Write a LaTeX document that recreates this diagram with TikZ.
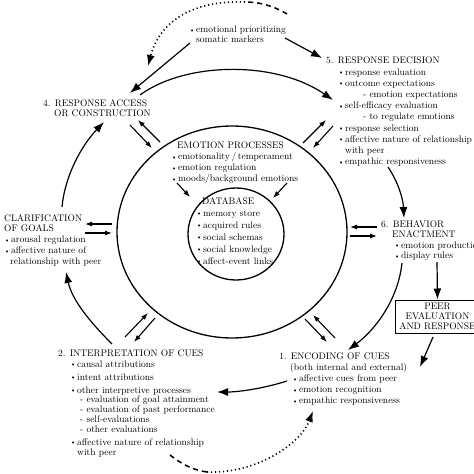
\documentclass[tikz,border=0pt]{standalone}
\usepackage{tikz}
\usetikzlibrary{arrows.meta}

\newcommand{\itm}{\makebox[7pt][l]{\raisebox{0.4pt}{\scriptsize\textbullet}}}

\tikzset{
	lbl/.style={align=left, inner sep=0pt, anchor=north west, font=\fontsize{9.5}{11}\selectfont},
	ring/.style={line width=1.2pt, -{Latex[length=11pt,width=8pt]}},
	twin/.style={line width=1.1pt, -{Latex[length=7pt,width=5pt]}},
	dashy/.style={line width=1.5pt, dash pattern=on 5pt off 4pt},
	dotty/.style={line width=1.6pt, dash pattern=on 1.2pt off 2.8pt},
}

\begin{document}
\begin{tikzpicture}[x=1pt, y=-1pt]
	\useasboundingbox (0,0) rectangle (474,474);
	% the two circles
	\draw[line width=1.3pt] (232,232) ellipse [x radius=115pt, y radius=106pt];
	\draw[line width=1.3pt] (236,234) ellipse [x radius=48pt, y radius=46pt];

	% texts
	\node[lbl, font=\fontsize{9.5}{10}\selectfont] (prio) at (189,26) {\itm emotional prioritizing\\\hspace*{7pt}somatic markers};
	\node[lbl, font=\fontsize{9.5}{11.2}\selectfont] (dec) at (326,57) {5. RESPONSE DECISION\\
		\hspace*{12pt}\itm response evaluation\\
		\hspace*{12pt}\itm outcome expectations\\
		\hspace*{37pt}- emotion expectations\\
		\hspace*{12pt}\itm self-efficacy evaluation\\
		\hspace*{37pt}- to regulate emotions\\
		\hspace*{12pt}\itm response selection\\
		\hspace*{12pt}\itm affective nature of relationship\\
		\hspace*{19pt}with peer\\
		\hspace*{12pt}\itm empathic responsiveness};
	\node[lbl, font=\fontsize{9.5}{10}\selectfont] (acc) at (43,99) {4. RESPONSE ACCESS\\\hspace*{11pt}OR CONSTRUCTION};
	\node[lbl] (emo) at (171,142) {\hspace*{6pt}EMOTION PROCESSES\\
		\itm emotionality\,/\,temperament\\
		\itm emotion regulation\\
		\itm moods/background emotions};
	\node[lbl, font=\fontsize{9.5}{12}\selectfont] (db) at (196,197) {\hspace*{6pt}DATABASE\\
		\itm memory store\\
		\itm acquired rules\\
		\itm social schemas\\
		\itm social knowledge\\
		\itm affect-event links};
	\node[lbl, font=\fontsize{9.5}{10.8}\selectfont] (clar) at (4,214) {CLARIFICATION\\OF GOALS\\
		\itm arousal regulation\\
		\itm affective nature of\\
		\hspace*{6pt}relationship with peer};
	\node[lbl, font=\fontsize{9.5}{10.5}\selectfont] (beh) at (381,220) {6. BEHAVIOR\\\hspace*{11pt}ENACTMENT\\
		\hspace*{13pt}\itm emotion production\\
		\hspace*{13pt}\itm display rules};
	\node[draw, line width=1pt, align=center, inner sep=0pt, minimum width=85pt, minimum height=33pt,
		font=\fontsize{9.5}{10}\selectfont] (peer) at (437.5,316.5) {PEER\\EVALUATION\\AND RESPONSE};
	\node[lbl, font=\fontsize{9.5}{9.8}\selectfont] (interp) at (58,349) {2. INTERPRETATION OF CUES\\[1.2pt]
		\hspace*{12pt}\itm causal attributions\\[3.2pt]
		\hspace*{12pt}\itm intent attributions\\[3.2pt]
		\hspace*{12pt}\itm other interpretive processes\\
		\hspace*{22pt}- evaluation of goal attainment\\
		\hspace*{22pt}- evaluation of past performance\\
		\hspace*{22pt}- self-evaluations\\
		\hspace*{22pt}- other evaluations\\[3.2pt]
		\hspace*{12pt}\itm affective nature of relationship\\
		\hspace*{19pt}with peer};
	\node[lbl] (enc) at (279,353) {1. ENCODING OF CUES\\
		\hspace*{11pt}(both internal and external)\\
		\hspace*{13pt}\itm affective cues from peer\\
		\hspace*{13pt}\itm emotion recognition\\
		\hspace*{13pt}\itm empathic responsiveness};

	% end points
	\coordinate (d1) at (287,14);
	\coordinate (d2) at (245,2);
	\coordinate (d3) at (148,66);
	\coordinate (b1) at (170,455);
	\coordinate (b2) at (207,472);
	\coordinate (b3) at (313,411);
	\coordinate (p1) at (190,43);
	\coordinate (p2) at (130,93);
	\coordinate (p3) at (285,38);
	\coordinate (p4) at (322,58);
	\coordinate (a4s) at (140,95);
	\coordinate (a5e) at (333,100);
	\coordinate (a5s) at (388,167);
	\coordinate (a6e) at (404,218);
	\coordinate (a6s) at (402,263);
	\coordinate (a1e) at (348,350);
	\coordinate (a1s) at (287,381);
	\coordinate (a2e) at (217,392);
	\coordinate (a2s) at (112,344);
	\coordinate (acl) at (66,272);
	\coordinate (acs) at (62,207);
	\coordinate (a4e) at (104,122);
	\coordinate (g1) at (437,262);
	\coordinate (h1) at (433,337);
	\coordinate (h2) at (420,367);
	\coordinate (u1) at (130,125);
	\coordinate (u2) at (152,148);
	\coordinate (u3) at (160,142);
	\coordinate (u4) at (138,120);
	\coordinate (v1) at (303,143);
	\coordinate (v2) at (326,120);
	\coordinate (v3) at (333,126);
	\coordinate (v4) at (313,148);
	\coordinate (w1) at (112,224);
	\coordinate (w2) at (85,224);
	\coordinate (w3) at (85,233);
	\coordinate (w4) at (112,233);
	\coordinate (x1) at (377,227);
	\coordinate (x2) at (350,227);
	\coordinate (x3) at (350,236);
	\coordinate (x4) at (377,236);
	\coordinate (y1) at (125,337);
	\coordinate (y2) at (148,313);
	\coordinate (y3) at (155,318);
	\coordinate (y4) at (134,342);
	\coordinate (z1) at (305,319);
	\coordinate (z2) at (327,342);
	\coordinate (z3) at (335,338);
	\coordinate (z4) at (313,315);
	\coordinate (e1) at (177,183);
	\coordinate (e2) at (190,197);
	\coordinate (e3) at (287,183);
	\coordinate (e4) at (273,198);

	% dashed and dotted loops
	\draw[dashy] (d1) .. controls (272,5) and (258,2) .. (d2);
	\draw[dotty, -{Latex[length=11pt,width=8pt]}] (d2) .. controls (195,0) and (160,20) .. (d3);
	\draw[dashy] (b1) .. controls (180,463) and (192,470) .. (b2);
	\draw[dotty, -{Latex[length=11pt,width=8pt]}] (b2) .. controls (255,474) and (300,445) .. (b3);

	% outer cycle
	\draw[ring] (p1) -- (p2);
	\draw[ring] (p3) -- (p4);
	\draw[ring] (a4s) .. controls (185,62) and (275,60) .. (a5e);
	\draw[ring] (a5s) .. controls (398,182) and (403,198) .. (a6e);
	\draw[ring] (a6s) .. controls (398,300) and (375,330) .. (a1e);
	\draw[ring] (a1s) .. controls (265,388) and (240,392) .. (a2e);
	\draw[ring] (a2s) .. controls (90,322) and (72,300) .. (acl);
	\draw[ring] (acs) .. controls (65,175) and (82,145) .. (a4e);
	\draw[ring] (g1) -- (peer.north);
	\draw[ring] (h1) -- (h2);

	% paired arrows
	\foreach \s/\t in {u1/u2, u3/u4, v1/v2, v3/v4, w1/w2, w3/w4, x1/x2, x3/x4, y1/y2, y3/y4, z1/z2, z3/z4, e1/e2, e3/e4}
		\draw[twin] (\s) -- (\t);
\end{tikzpicture}
\end{document}
